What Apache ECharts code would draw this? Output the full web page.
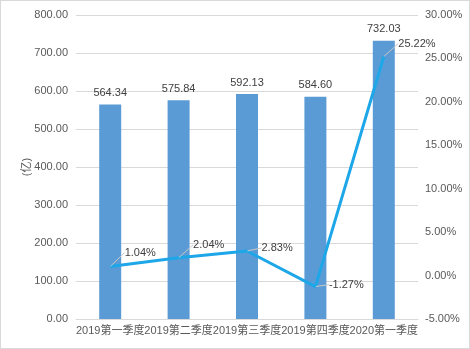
<!DOCTYPE html>
<html>
<head>
<meta charset="utf-8">
<script src="https://cdn.jsdelivr.net/npm/echarts@6/dist/echarts.min.js"></script>
<style>
  html, body { margin: 0; padding: 0; background: #fff; }
  #chart { width: 468px; height: 347px; border: 1px solid #d9d9d9; }
</style>
</head>
<body>
<div id="chart"></div>
<script>
// Quarterly totals (亿) and quarter-on-quarter growth (%)
var quarters = ['2019第一季度', '2019第二季度', '2019第三季度', '2019第四季度', '2020第一季度'];
var amounts = [564.34, 575.84, 592.13, 584.60, 732.03];
var growth = [1.04, 2.04, 2.83, -1.27, 25.22];
var leftTicks = { min: 0, max: 800, interval: 100 };
var rightTicks = { min: -5, max: 30, interval: 5 };

// Callout offsets for the growth labels, in pixels
var calloutShift = [[14, -14], [14, -13], [14, -3], [13, -2], [14, -13]];

var chart = echarts.init(document.getElementById('chart'), null, { renderer: 'canvas' });
var font = 'Arial, "Liberation Sans", "Noto Sans CJK SC", sans-serif';

chart.setOption({
  animation: false,
  textStyle: { fontFamily: font },
  grid: { left: 75, right: 51, top: 14, bottom: 29 },
  xAxis: {
    type: 'category',
    data: quarters,
    axisLine: { lineStyle: { color: '#d9d9d9' } },
    axisTick: { show: false },
    axisLabel: { interval: 0, color: '#595959', fontSize: 11, margin: 6, fontFamily: font }
  },
  yAxis: [
    {
      type: 'value',
      min: leftTicks.min, max: leftTicks.max, interval: leftTicks.interval,
      name: '(亿)', nameLocation: 'middle', nameGap: 44, nameRotate: 90,
      nameMoveOverlap: false,
      nameTextStyle: { color: '#595959', fontSize: 11, fontFamily: font },
      axisLine: { show: false }, axisTick: { show: false },
      axisLabel: { color: '#595959', fontSize: 11, margin: 8,
        formatter: function (v) { return v.toFixed(2); } },
      splitLine: { lineStyle: { color: '#d9d9d9' } }
    },
    {
      type: 'value',
      min: rightTicks.min, max: rightTicks.max, interval: rightTicks.interval,
      axisLine: { show: false }, axisTick: { show: false },
      axisLabel: { color: '#595959', fontSize: 11, margin: 7,
        formatter: function (v) { return v.toFixed(2) + '%'; } },
      splitLine: { show: false }
    }
  ],
  series: [
    {
      type: 'bar',
      data: amounts,
      barWidth: 22,
      itemStyle: { color: '#5b9bd5' },
      label: { show: true, position: 'top', distance: 6, color: '#404040', fontSize: 11,
        formatter: function (p) { return p.value.toFixed(2); } }
    },
    {
      type: 'line',
      yAxisIndex: 1,
      data: growth,
      symbol: 'circle',
      symbolSize: 1,
      itemStyle: { color: 'rgba(0,0,0,0)', borderWidth: 0 },
      lineStyle: { color: '#1ea7e8', width: 3 },
      label: { show: true, position: 'right', distance: 0, color: '#404040', fontSize: 11,
        formatter: function (p) { return p.value.toFixed(2) + '%'; } },
      labelLine: { show: true, lineStyle: { color: '#c8c8c8', width: 1 } },
      labelLayout: function (params) {
        var s = calloutShift[params.dataIndex];
        return { dx: s[0], dy: s[1] };
      }
    }
  ]
});
</script>
</body>
</html>
